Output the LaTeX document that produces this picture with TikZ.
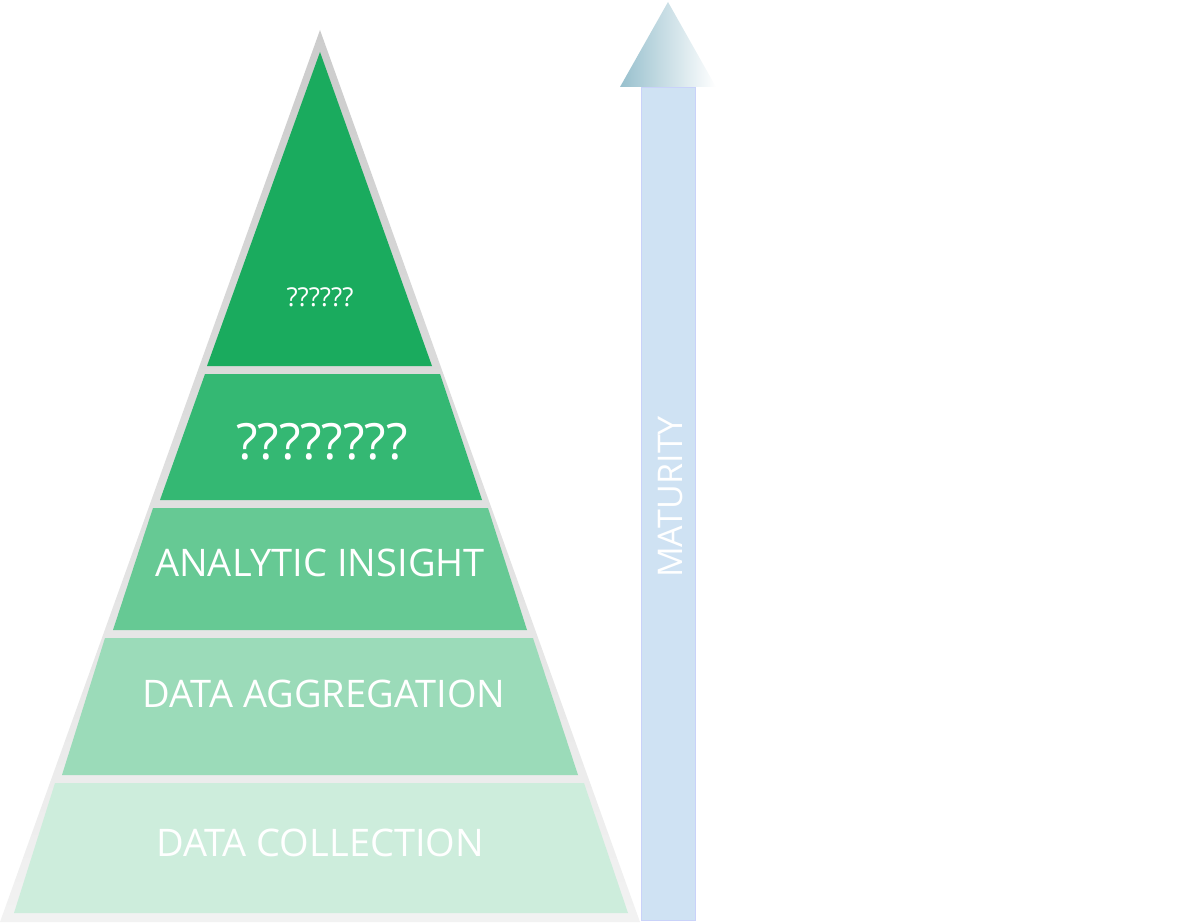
\documentclass[tikz,border=0pt]{standalone}
\usepackage{fontspec}
\setmainfont{Open Sans}
\begin{document}
\begin{tikzpicture}[x=1pt,y=-1pt,
 lay/.style={draw=none},
 lbl/.style={text=white,inner sep=0pt,font=\fontsize{38}{38}\selectfont}]
\useasboundingbox (0,0) rectangle (1200,923);
\definecolor{g1}{HTML}{1AAB5E}\definecolor{g2}{HTML}{34B873}
\definecolor{g3}{HTML}{66C994}\definecolor{g4}{HTML}{9BDBB9}
\definecolor{g5}{HTML}{CDEDDC}\definecolor{ab}{HTML}{CFE2F3}
\shade[top color=black!20,bottom color=black!5] (320,30) -- (640,922) -- (0,922) -- cycle;
\fill[g1] (320,52) -- (432,366) -- (207,366) -- cycle;
\fill[g2] (205,374) -- (440,374) -- (482,500) -- (160,500) -- cycle;
\fill[g3] (153,508) -- (488,508) -- (527,630) -- (113,630) -- cycle;
\fill[g4] (105,638) -- (533,638) -- (578,775) -- (62,775) -- cycle;
\fill[g5] (55,783) -- (584,783) -- (628,913) -- (14,913) -- cycle;
\node[lbl,font=\fontsize{26}{26}\selectfont] (l1) at (320,297) {??????};
\node[lbl,font=\fontsize{50}{50}\selectfont] (l2) at (322,442) {????????};
\node[lbl] (l3) at (320,563) {ANALYTIC INSIGHT};
\node[lbl] (l4) at (324,694) {DATA AGGREGATION};
\node[lbl] (l5) at (320,843) {DATA COLLECTION};
\filldraw[fill=ab,draw=ab!80!blue!60!white,line width=0.6pt] (641,87) rectangle (695,920);
\shade[left color=blue!25!cyan!35!gray!60!white,right color=white] (620,87) -- (668,2) -- (716,87) -- cycle;
\node[lbl,rotate=90,font=\fontsize{34}{34}\selectfont] (m) at (670,497) {MATURITY};
\end{tikzpicture}
\end{document}
